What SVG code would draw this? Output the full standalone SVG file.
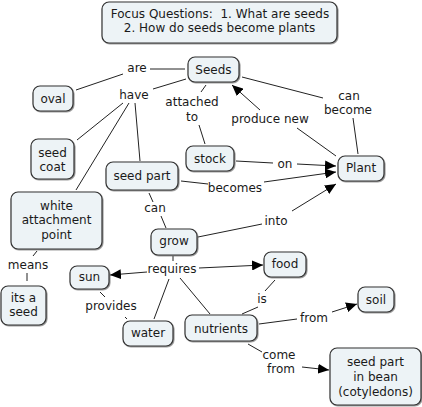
<svg xmlns="http://www.w3.org/2000/svg" width="422" height="407" viewBox="0 0 422 407">
<style>
.n rect{fill:#edf3f6;stroke:#333;stroke-width:1.2;filter:url(#ds)}
text{font-family:"DejaVu Sans","Verdana",sans-serif;font-size:12px;fill:#1a1a1a;text-anchor:middle}
#links line{stroke:#222;stroke-width:1}
.ar{marker-end:url(#ah)}
</style>
<defs>
<filter id="ds" x="-10%" y="-10%" width="120%" height="130%">
<feDropShadow dx="0.8" dy="0.8" stdDeviation="0.4" flood-color="#666" flood-opacity="0.8"/>
</filter>
<marker id="ah" markerUnits="userSpaceOnUse" markerWidth="12" markerHeight="10" refX="11" refY="5" orient="auto">
<path d="M0,0 L11,5 L0,10 Z" fill="#000"/>
</marker>
</defs>
<rect width="422" height="407" fill="#fff"/>
<g id="links">
<line x1="185" y1="69" x2="150" y2="69"/>
<line x1="123" y1="74" x2="76" y2="90"/>
<line x1="186" y1="79" x2="153" y2="89"/>
<line x1="123" y1="103" x2="77" y2="140"/>
<line x1="129" y1="103" x2="76" y2="190"/>
<line x1="135" y1="103" x2="140" y2="161"/>
<line x1="206" y1="85" x2="201" y2="92"/>
<line x1="199" y1="125" x2="205" y2="144"/>
<line x1="336" y1="156" x2="297" y2="128"/>
<line class="ar" x1="260" y1="110" x2="232" y2="85"/>
<line x1="242" y1="77" x2="323" y2="98"/>
<line x1="353" y1="118" x2="358" y2="154"/>
<line x1="236" y1="161" x2="273" y2="163"/>
<line class="ar" x1="297" y1="164" x2="336" y2="166"/>
<line x1="181" y1="181" x2="208" y2="184"/>
<line class="ar" x1="264" y1="182" x2="336" y2="172"/>
<line x1="149" y1="193" x2="153" y2="202"/>
<line x1="161" y1="216" x2="166" y2="228"/>
<line x1="198" y1="237" x2="262" y2="224"/>
<line class="ar" x1="292" y1="211" x2="336" y2="184"/>
<line x1="173" y1="256" x2="173" y2="261"/>
<line class="ar" x1="147" y1="272" x2="110" y2="275"/>
<line class="ar" x1="199" y1="268" x2="263" y2="265"/>
<line x1="169" y1="279" x2="154" y2="319"/>
<line x1="180" y1="278" x2="210" y2="314"/>
<line x1="275" y1="280" x2="265" y2="291"/>
<line x1="258" y1="307" x2="242" y2="314"/>
<line x1="100" y1="292" x2="105" y2="297"/>
<line x1="125" y1="317" x2="127" y2="319"/>
<line x1="37" y1="251" x2="33" y2="256"/>
<line x1="27" y1="273" x2="27" y2="281"/>
<line x1="259" y1="324" x2="297" y2="319"/>
<line class="ar" x1="332" y1="312" x2="357" y2="304"/>
<line x1="248" y1="344" x2="262" y2="352"/>
<line class="ar" x1="302" y1="367" x2="329" y2="370"/>
</g>
<g id="labels">
<text x="137" y="72">are</text>
<text x="134" y="98.6">have</text>
<text x="192" y="106">attached</text>
<text x="192" y="121">to</text>
<text x="270" y="122.6">produce new</text>
<text x="349" y="100.3">can</text>
<text x="348" y="114.3">become</text>
<text x="285" y="167.6">on</text>
<text x="235" y="191.6">becomes</text>
<text x="155" y="212">can</text>
<text x="276" y="225">into</text>
<text x="28" y="268.6">means</text>
<text x="172" y="272.6">requires</text>
<text x="111" y="310">provides</text>
<text x="262" y="303.3">is</text>
<text x="314" y="321.6">from</text>
<text x="279" y="359.3">come</text>
<text x="281" y="373.3">from</text>
</g>
<g id="focus" class="n"><rect x="102" y="2" width="235" height="41" rx="7"/><text x="220" y="18" style="white-space:pre">Focus Questions:  1. What are seeds</text><text x="219.5" y="32">2. How do seeds become plants</text></g>
<g id="seeds" class="n"><rect x="188" y="57" width="51" height="25" rx="7"/><text x="213.5" y="74">Seeds</text></g>
<g id="oval" class="n"><rect x="33" y="86" width="40" height="25" rx="7"/><text x="53" y="103">oval</text></g>
<g id="seedcoat" class="n"><rect x="31" y="139" width="43" height="40" rx="7"/><text x="52.5" y="156.5">seed</text><text x="52.5" y="170.5">coat</text></g>
<g id="seedpart" class="n"><rect x="106" y="162" width="72" height="28" rx="7"/><text x="142" y="179.5">seed part</text></g>
<g id="stock" class="n"><rect x="186" y="146" width="48" height="25" rx="7"/><text x="210" y="162.6">stock</text></g>
<g id="plant" class="n"><rect x="338" y="156" width="46" height="25" rx="7"/><text x="361" y="172">Plant</text></g>
<g id="whiteattachment" class="n"><rect x="11" y="192" width="91" height="57" rx="7"/><text x="56.5" y="209.5">white</text><text x="56.5" y="224">attachment</text><text x="56.5" y="238.5">point</text></g>
<g id="grow" class="n"><rect x="151" y="229" width="46" height="26" rx="7"/><text x="174" y="244.5">grow</text></g>
<g id="food" class="n"><rect x="264" y="252" width="42" height="25" rx="7"/><text x="285" y="268">food</text></g>
<g id="sun" class="n"><rect x="70" y="266" width="39" height="23" rx="7"/><text x="89.5" y="281">sun</text></g>
<g id="itsaseed" class="n"><rect x="1" y="286" width="45" height="39" rx="7"/><text x="23.5" y="302">its a</text><text x="23.5" y="316">seed</text></g>
<g id="soil" class="n"><rect x="358" y="287" width="36" height="25" rx="7"/><text x="376" y="303.5">soil</text></g>
<g id="water" class="n"><rect x="123" y="321" width="50" height="25" rx="7"/><text x="148" y="337">water</text></g>
<g id="nutrients" class="n"><rect x="185" y="315" width="72" height="26" rx="7"/><text x="221" y="332.7">nutrients</text></g>
<g id="cotyledons" class="n"><rect x="330" y="348" width="91" height="57" rx="7"/><text x="375.5" y="366">seed part</text><text x="375.5" y="381">in bean</text><text x="375.5" y="395.5">(cotyledons)</text></g>
</svg>
